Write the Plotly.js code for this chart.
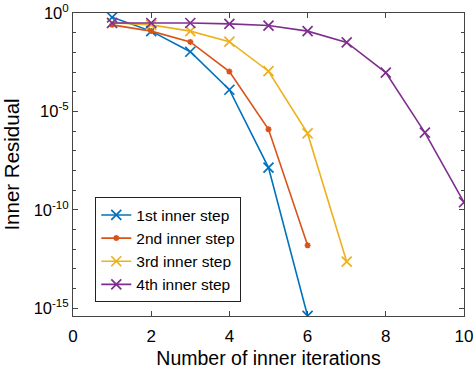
<!DOCTYPE html>
<html>
<head>
<meta charset="utf-8">
<script src="https://cdn.plot.ly/plotly-3.0.1.min.js"></script>
<style>html,body{margin:0;padding:0;background:#fff;}#chart{width:474px;height:369px;}</style>
</head>
<body>
<div id="chart"></div>
<script>
const iterations = [1, 2, 3, 4, 5, 6, 7, 8, 9, 10];
const seriesNames = ["1st inner step", "2nd inner step", "3rd inner step", "4th inner step"];
const step1 = [0.6, 0.12, 0.0107, 1.26e-4, 1.4e-8, 4e-16];
const step2 = [0.25, 0.12, 0.034, 1.05e-3, 1.23e-6, 1.55e-12];
const step3 = [0.32, 0.25, 0.12, 0.035, 1.1e-3, 7.6e-7, 2.3e-13];
const step4 = [0.31, 0.31, 0.31, 0.28, 0.23, 0.12, 0.032, 9.3e-4, 8.3e-7, 2.4e-10];
const yTickVals = [1e-15, 1e-10, 1e-5, 1];
const yTickText = ["10<sup>-15</sup>", "10<sup>-10</sup>", "10<sup>-5</sup>", "10<sup>0</sup>"];
const xTickVals = [0, 2, 4, 6, 8, 10];

const colors = ["#0072BD", "#D95319", "#EDB120", "#7E2F8E"];
const symbols = ["x-thin-open", "asterisk-open", "x-thin-open", "x-thin-open"];
const sizes = [10, 5, 10, 10];
const allSeries = [step1, step2, step3, step4];

const traces = allSeries.map((ys, i) => ({
  x: iterations.slice(0, ys.length),
  y: ys,
  name: seriesNames[i],
  type: "scatter",
  mode: "lines+markers",
  line: {color: colors[i], width: 1.6},
  marker: {symbol: symbols[i], size: sizes[i], color: colors[i], line: {color: colors[i], width: 1.7}}
}));

const minorVals = [];
for (let e = -16; e <= 0; e++) minorVals.push(Math.pow(10, e));

const layout = {
  width: 474, height: 369,
  margin: {l: 73, r: 10, t: 13, b: 53},
  paper_bgcolor: "#fff", plot_bgcolor: "#fff",
  font: {family: "Liberation Sans, Arial, sans-serif", color: "#000", size: 15},
  showlegend: true,
  legend: {
    x: 0.057, y: 0.045, xanchor: "left", yanchor: "bottom",
    bgcolor: "#fff", bordercolor: "#222", borderwidth: 1,
    font: {size: 15.5, color: "#000"},
    itemwidth: 30, tracegroupgap: 0
  },
  xaxis: {
    range: [0, 10], tickvals: xTickVals, ticktext: xTickVals.map(String),
    ticks: "inside", ticklen: 5, tickcolor: "#444", showline: true, linecolor: "#444", linewidth: 1,
    mirror: "ticks", showgrid: false, zeroline: false,
    tickfont: {size: 17}, ticklabelstandoff: 5,
    title: {text: "Number of inner iterations", font: {size: 19.5}, standoff: 5}
  },
  yaxis: {
    type: "log", range: [-15.4, 0],
    tickmode: "array", tickvals: yTickVals, ticktext: yTickText,
    ticks: "inside", ticklen: 5, tickcolor: "#444", showline: true, linecolor: "#444", linewidth: 1,
    mirror: "ticks", showgrid: false, zeroline: false,
    tickfont: {size: 16.5},
    minor: {tickmode: "array", tickvals: minorVals, ticks: "inside", ticklen: 3, tickcolor: "#444"},
    title: {text: "Inner Residual", font: {size: 20.5}, standoff: 16}
  }
};

Plotly.newPlot("chart", traces, layout, {displayModeBar: false, staticPlot: true});
</script>
</body>
</html>
